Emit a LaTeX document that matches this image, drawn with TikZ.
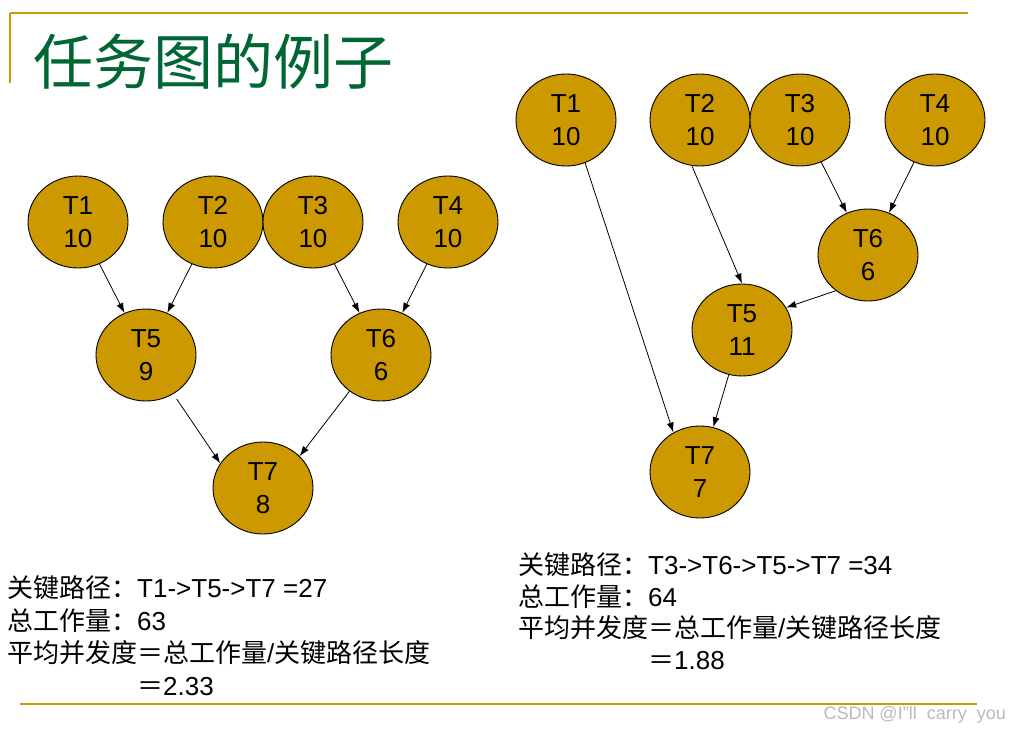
\documentclass[tikz,border=0pt]{standalone}
\usepackage{fontspec}
\setmainfont{Liberation Sans}
\newfontfamily\cjk{Noto Sans CJK SC}
\usepackage{tikz}
\usetikzlibrary{arrows.meta,shapes.geometric}
\definecolor{gold}{HTML}{CC9900}
\definecolor{titlegreen}{HTML}{006633}

\begin{document}
\begin{tikzpicture}[
        x=1pt,
        y=-1pt,
        task/.style={ellipse, draw=black, line width=0.9pt, fill=gold, minimum width=100pt, minimum height=92pt, inner sep=0pt, align=center, font=\fontsize{26}{33}\selectfont},
        edge/.style={-{Latex[length=10pt,width=7pt]}, line width=0.8pt},
        rule/.style={gold, line width=2pt},
        summary/.style={anchor=base west, inner sep=0pt, align=left, font=\fontsize{26}{32.5}\selectfont}
    ]
        \useasboundingbox (0,0) rectangle (1021,731);

        % Frame lines and title.
        \draw[rule] (10,13) -- (968,13);
        \draw[rule] (10,13) -- (10,83);
        \draw[rule] (20,704) -- (977,704);
        \node[anchor=west, inner sep=0pt, text=titlegreen, font={\cjk\fontsize{60}{60}\selectfont}] (title) at (33,62) {任务图的例子};

        % Left task graph.
        \foreach \name/\x/\y/\t/\w in {l1/78/222/T1/10,l2/213/222/T2/10,l3/313/222/T3/10,l4/448/222/T4/10,l5/146/355/T5/9,l6/381/355/T6/6,l7/263/488/T7/8} {
            \node[task] (\name) at (\x,\y) {\t\\\w};
        }
        \foreach \a/\b in {l1/l5,l2/l5,l3/l6,l4/l6} {
            \draw[edge] (\a) -- (\b);
        }
        \draw[edge, shorten <=6pt] (l5.-55) -- (l7.150);
        \draw[edge] (l6.-131) -- (l7.41);

        % Right task graph.
        \foreach \name/\x/\y/\t/\w in {r1/566/120/T1/10,r2/700/120/T2/10,r3/800/120/T3/10,r4/935/120/T4/10,r6/868/255/T6/6,r5/742/330/T5/11,r7/700/472/T7/7} {
            \node[task] (\name) at (\x,\y) {\t\\\w};
        }
        \foreach \a/\b in {r3/r6,r4/r6,r5/r7} {
            \draw[edge] (\a) -- (\b);
        }
        \draw[edge] (r1.-66) -- (r7.124);
        \draw[edge] (r2.-100) -- (r5.north);
        \draw[edge] (r6.-132) -- (r5.27);

        % Summaries (base = last line).
        \node[summary] (lsum) at (7,695) {{\cjk 关键路径：}T1->T5->T7 =27\\{\cjk 总工作量：}63\\{\cjk 平均并发度＝总工作量}/{\cjk 关键路径长度}\\{\cjk\phantom{平均并发度}＝}2.33};
        \node[summary, font=\fontsize{26}{31.5}\selectfont] (rsum) at (518,669) {{\cjk 关键路径：}T3->T6->T5->T7 =34\\{\cjk 总工作量：}64\\{\cjk 平均并发度＝总工作量}/{\cjk 关键路径长度}\\{\cjk\phantom{平均并发度}＝}1.88};

        \node[anchor=base east, inner sep=0pt, text=gray!55, font=\fontsize{18}{18}\selectfont] (mark) at (1006,719) {CSDN @I"ll\ \ carry\ \ you};
    \end{tikzpicture}
\end{document}
